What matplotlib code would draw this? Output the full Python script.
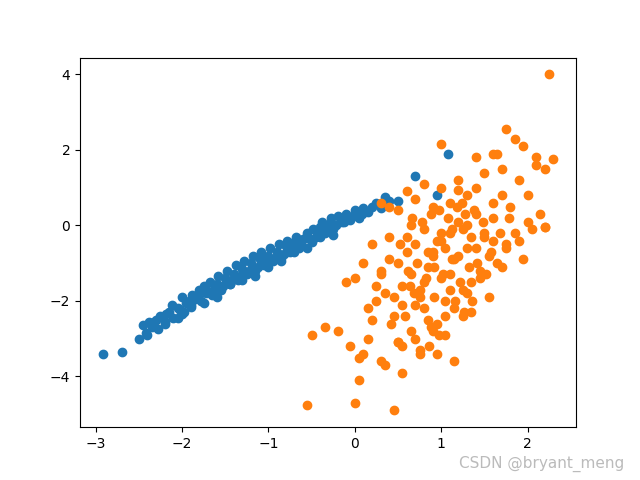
import matplotlib.pyplot as plt

# class 0 (blue)
blue_x = [-2.92, -2.7, -2.5, -2.45, -2.42, -2.38, -2.35, -2.3, -2.28, -2.25, -2.2, -2.15, -2.12,
          -2.1, -2.05, -2.0, -1.98, -1.95, -1.9, -1.88, -1.85, -1.8, -1.78, -1.75, -1.7, -1.68,
          -1.65, -1.6, -1.58, -1.55, -1.5, -1.48, -1.45, -1.4, -1.38, -1.35, -1.3, -1.28, -1.25,
          -1.2, -1.18, -1.15, -1.1, -1.08, -1.05, -1.0, -0.98, -0.95, -0.9, -0.88, -0.85, -0.8,
          -0.78, -0.75, -0.7, -0.68, -0.65, -0.6, -0.55, -0.5, -0.48, -0.45, -0.4, -0.38, -0.35,
          -0.3, -0.28, -0.25, -0.2, -0.15, -0.1, -0.05, 0.0, 0.05, 0.1, 0.15, 0.2, 0.25, 0.3,
          0.35, 0.4, 0.5, 0.7, 1.08, 0.95, -2.2, -1.9, -1.6, -1.3, -1.0, -0.7, -0.4, -2.05,
          -1.75, -1.45, -1.15, -0.85, -0.55, -0.25, -2.4, -2.0,
          -2.32, -2.18, -2.02, -1.92, -1.82, -1.72, -1.62, -1.52, -1.42, -1.32, -1.22, -1.12,
          -1.02, -0.92, -0.82, -0.72, -0.62, -0.52, -0.42, -0.32, -0.22, -0.12, -0.02, 0.08]
blue_y = [-3.4, -3.35, -3.0, -2.65, -2.85, -2.55, -2.7, -2.5, -2.75, -2.4, -2.55, -2.3, -2.1,
          -2.45, -2.2, -1.9, -2.3, -2.05, -2.15, -1.85, -1.95, -1.7, -2.0, -1.6, -1.75, -1.5,
          -1.85, -1.55, -1.35, -1.7, -1.4, -1.2, -1.55, -1.3, -1.05, -1.45, -1.15, -0.95, -1.3,
          -1.0, -0.8, -1.2, -0.9, -0.7, -1.05, -0.8, -0.6, -0.95, -0.7, -0.5, -0.85, -0.55,
          -0.4, -0.7, -0.45, -0.3, -0.6, -0.35, -0.2, -0.45, -0.1, -0.3, -0.05, 0.1, -0.2,
          0.05, 0.2, -0.1, 0.25, 0.1, 0.3, 0.15, 0.4, 0.2, 0.45, 0.35, 0.5, 0.6, 0.45,
          0.75, 0.65, 0.65, 1.3, 1.9, 0.8, -2.6, -2.1, -1.9, -1.45, -1.1, -0.7, -0.3, -2.45,
          -2.05, -1.55, -1.35, -0.95, -0.6, -0.25, -2.9, -2.35,
          -2.55, -2.35, -2.25, -2.0, -1.9, -1.8, -1.65, -1.6, -1.45, -1.35, -1.2, -1.1,
          -0.95, -0.85, -0.75, -0.6, -0.5, -0.35, -0.25, -0.1, 0.0, 0.1, 0.25, 0.3]

# class 1 (orange)
orange_x = [2.25, 1.75, 1.85, 1.95, 2.1, 2.2, 2.3, 1.6, 1.7, 1.9, 2.0, 1.5, 1.4, 1.3, 1.2,
            1.1, 1.0, 0.9, 0.8, 0.7, 0.6, 0.5, 0.4, 0.3, 0.2, 0.1, 0.0, -0.1, -0.2, -0.35,
            -0.5, 0.05, 0.45, 0.3, 0.55, 0.65, 0.75, 0.85, 0.95, 1.05, 1.15, 1.25, 1.35, 1.45,
            1.55, 1.65, 1.75, 1.85, 2.05, 2.15, 2.2, 1.25, 1.35, 0.95, 1.05, 1.15, 0.85, 0.65,
            0.55, 0.35, 0.25, 0.15, 0.45, 0.75, 1.6, 1.8, 1.7, 1.4, 1.5, 1.0, 1.2, 1.3, 0.9,
            0.8, 0.7, 0.6, 0.5, 0.4, 0.3, 0.2, 0.1, 0.05, 0.15, 0.35, 0.55, 0.95, 1.15, 1.35,
            1.55, 1.75, 1.95, 1.1, 1.3, 1.45, 0.9, 0.75, 1.05, 1.25, 1.4, 1.6, 0.65, 0.85, 0.5,
            0.25, 2.0, 1.9, 2.1, 1.65, 1.0, 1.2,
            -0.55, 0.0, 0.5, 1.1, 2.2, -0.05,
            0.6, 0.7, 0.8, 0.9, 1.0, 1.1, 1.2, 1.3, 1.4, 1.5, 0.62, 0.72, 0.82, 0.92, 1.02,
            1.12, 1.22, 1.32, 1.42, 1.52, 0.66, 0.78, 0.88, 0.98, 1.08, 1.18, 1.28, 1.38, 1.48,
            0.45, 0.55, 0.68, 0.8, 0.92, 1.04, 1.16, 1.27, 1.6, 1.7, 0.4, 0.52, 0.64, 0.76,
            0.88, 1.0, 1.12, 1.24, 1.36, 1.58, 1.68, 1.78, 0.3, 0.42, 0.58, 0.7, 0.86, 0.98]
orange_y = [4.0, 2.55, 2.3, 2.1, 1.8, 1.5, 1.75, 1.9, 1.5, 1.2, 0.8, 1.4, 1.0, 0.8, 1.2,
            0.6, 1.0, 0.5, 1.1, 0.7, 0.9, 0.4, 0.5, 0.6, -0.5, -1.0, -1.4, -1.5, -2.8, -2.7,
            -2.9, -3.5, -4.9, -3.6, -3.2, -2.8, -3.4, -2.5, -2.6, -2.0, -2.2, -1.7, -1.5, -1.2,
            -0.8, -1.0, -0.5, -0.2, -0.1, 0.3, -0.05, -0.1, -0.3, -0.4, -0.6, -0.9, -1.1, -1.3,
            -1.6, -1.8, -2.0, -2.2, -2.4, -1.9, 0.2, 0.5, 0.8, 0.3, -0.2, -0.2, 0.1, -0.6, -0.8,
            -1.5, -2.1, -0.7, -1.0, -0.3, -1.2, -2.5, -3.4, -4.1, -3.0, -3.7, -3.9, -3.4, -3.6,
            -2.3, -1.9, -0.6, -0.9, -1.3, -1.8, -1.4, -2.8, -3.3, -2.9, -2.4, 1.8, 0.6, 0.0,
            -0.7, -3.1, -1.6, 0.1, -0.4, 1.6, 1.9, 2.15, 0.95,
            -4.75, -4.7, -3.1, -1.7, -0.05, -3.2,
            -0.3, -0.5, -0.1, -0.7, -0.4, -0.2, -0.8, 0.0, -0.6, -0.3, -1.2, -1.0, -1.4, -1.1,
            -1.3, -0.9, -1.5, -1.1, -1.0, -1.3, 0.2, 0.1, 0.3, 0.4, 0.2, 0.5, 0.3, 0.4, 0.1,
            -1.9, -2.1, -1.8, -2.2, -1.9, -2.4, -2.0, -2.3, -0.4, -1.1, -0.9, -0.5, -1.6, -1.7,
            -2.7, -1.4, -0.1, 0.6, -2.0, -0.7, -0.2, 0.2, -1.3, -2.6, -2.4, -3.0, -3.2, -2.9]

plt.scatter(blue_x, blue_y)
plt.scatter(orange_x, orange_y)
plt.figtext(0.975, 0.025, 'CSDN @bryant_meng', ha='right', color='#bbbbbb', fontsize=11)
plt.savefig('out.png')
